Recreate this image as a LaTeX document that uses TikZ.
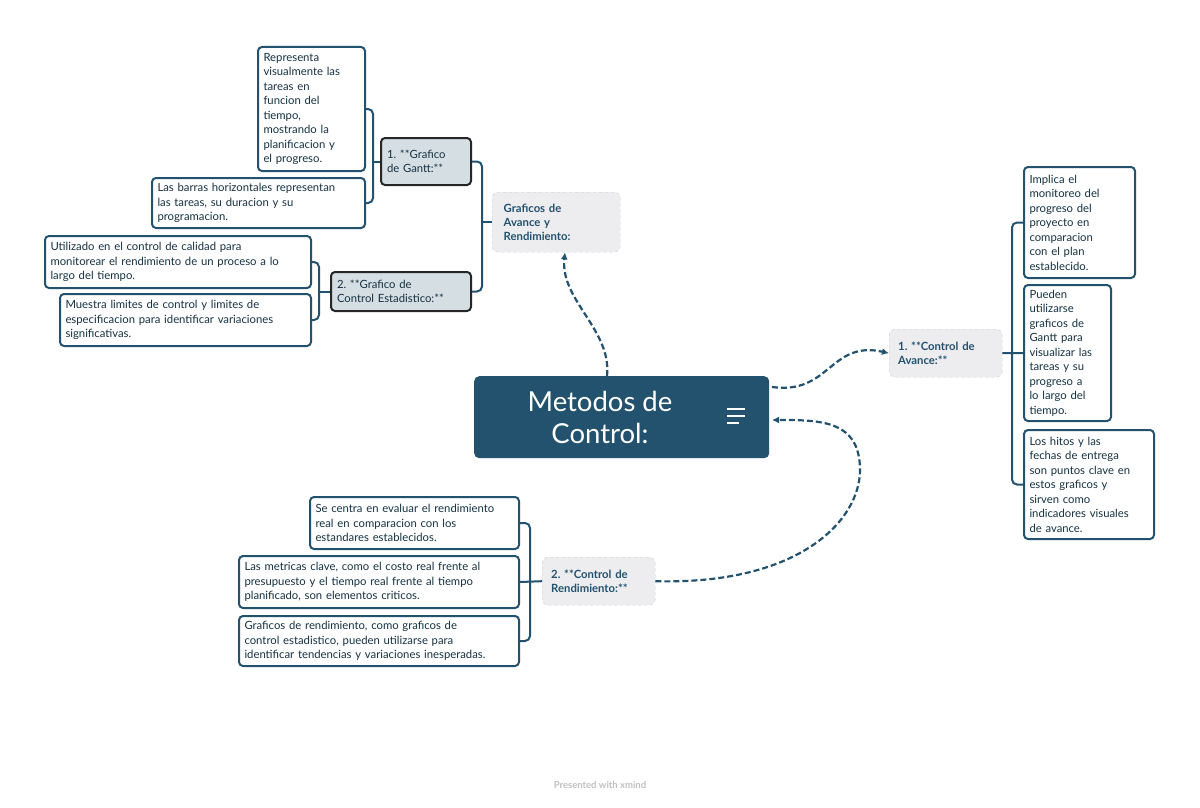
\documentclass[tikz,border=0pt]{standalone}
\usepackage{fontspec}
\setmainfont{Lato}
\frenchspacing
\usetikzlibrary{arrows.meta,calc}
\definecolor{dk}{HTML}{23526E}
\definecolor{lg}{HTML}{EDECEF}
\definecolor{gb}{HTML}{D5DEE3}
\tikzset{
 leaf/.style={draw=dk,line width=2pt,rounded corners=4pt,fill=white,anchor=north west,inner xsep=5pt,inner ysep=2pt,align=left,font=\fontsize{11.3}{14.5}\selectfont,text=dk!60!black},
 sub/.style={leaf,draw=black!85,fill=gb,font=\fontsize{11.3}{14}\selectfont},
 topic/.style={fill=lg,draw=lg!85!black,dashed,line width=0.4pt,rounded corners=6pt,anchor=north west,inner xsep=9pt,align=left,font=\bfseries\fontsize{11.3}{14}\selectfont,text=dk},
 br/.style={draw=dk,line width=2pt,rounded corners=5pt},
 dsh/.style={draw=dk,line width=2.2pt,dash pattern=on 6pt off 3pt,-{Latex[length=7pt,width=7pt]}}
}
\begin{document}
\begin{tikzpicture}[x=1pt,y=-1pt]
\useasboundingbox (0,0) rectangle (1200,808);
% central
\node[fill=dk,rounded corners=5pt,minimum width=295,minimum height=82,anchor=north west] (c) at (474,376) {};
\node[text=white,align=center,font=\fontsize{27.5}{32}\selectfont] (ct) at (600,417) {Metodos de\\Control:};
\draw[white,line width=1.6pt] (727,409)--(745,409) (727,416)--(745,416) (727,423)--(739,423);
% topics
\node[topic,minimum width=128,minimum height=60,text width=105] (ga) at (492,192) {Graficos de\\Avance y\\Rendimiento:};
\node[topic,minimum width=113,minimum height=48,text width=95] (ca) at (889,329) {1. **Control de\\Avance:**};
\node[topic,minimum width=112,minimum height=48,text width=95] (cr) at (542,557) {2. **Control de\\Rendimiento:**};
% subs
\node[sub,minimum width=90,minimum height=47,text width=78] (gt) at (380,137) {1. **Grafico\\de Gantt:**};
\node[sub,minimum width=140,minimum height=39,text width=128] (ge) at (330,271) {2. **Grafico de\\Control Estadistico:**};
% leaves
\node[leaf,minimum width=107,minimum height=124,text width=96] (l1) at (257,46) {Representa\\visualmente las\\tareas en\\funcion del\\tiempo,\\mostrando la\\planificacion y\\el progreso.};
\node[leaf,minimum width=213,minimum height=50,text width=202] (l2) at (151,177) {Las barras horizontales representan\\las tareas, su duracion y su\\programacion.};
\node[leaf,minimum width=266,minimum height=52,text width=255] (l3) at (44,235) {Utilizado en el control de calidad para\\monitorear el rendimiento de un proceso a lo\\largo del tiempo.};
\node[leaf,minimum width=251,minimum height=52,text width=240] (l4) at (59,293) {Muestra limites de control y limites de\\especificacion para identificar variaciones\\significativas.};
\node[leaf,minimum width=111,minimum height=111,text width=100] (r1) at (1023,166) {Implica el\\monitoreo del\\progreso del\\proyecto en\\comparacion\\con el plan\\establecido.};
\node[leaf,minimum width=87,minimum height=136,text width=76] (r2) at (1023,284) {Pueden\\utilizarse\\graficos de\\Gantt para\\visualizar las\\tareas y su\\progreso a\\lo largo del\\tiempo.};
\node[leaf,minimum width=130,minimum height=109,text width=119] (r3) at (1023,429) {Los hitos y las\\fechas de entrega\\son puntos clave en\\estos graficos y\\sirven como\\indicadores visuales\\de avance.};
\node[leaf,minimum width=209,minimum height=52,text width=198] (b1) at (309,496) {Se centra en evaluar el rendimiento\\real en comparacion con los\\estandares establecidos.};
\node[leaf,minimum width=280,minimum height=52,text width=269] (b2) at (238,555) {Las metricas clave, como el costo real frente al\\presupuesto y el tiempo real frente al tiempo\\planificado, son elementos criticos.};
\node[leaf,minimum width=280,minimum height=50,text width=269] (b3) at (238,615) {Graficos de rendimiento, como graficos de\\control estadistico, pueden utilizarse para\\identificar tendencias y variaciones inesperadas.};
% brackets
\coordinate (j1) at (373,160);
\draw[br] (l1.east) -| (j1) |- (l2.east);
\draw[br] (gt.west -| j1) -- (gt.west);
\coordinate (j2) at (482,222);
\draw[br] (gt.east) -| (j2) |- (ge.east);
\draw[br] (ga.west -| j2) -- (ga.west);
\coordinate (j3) at (319,290);
\draw[br] (l3.east) -| (j3) |- (l4.east);
\draw[br] (ge.west -| j3) -- (ge.west);
\coordinate (j4) at (1012,353);
\draw[br] (r1.west) -| (j4) |- (r3.west);
\draw[br] (ca.east) -- (r2.west);
\coordinate (j5) at (530,581);
\draw[br] (b1.east) -| (j5) |- (b3.east);
\draw[br] (b2.east) -- (cr.west);
% dashed connectors
\coordinate (ctop) at (607,376);
\draw[dsh] (ctop) .. controls (612,330) and (560,300) .. (ga.south -| 565,0);
\coordinate (cr1) at (772,387);
\draw[dsh] (cr1) .. controls (830,395) and (830,340) .. (ca.west);
\coordinate (cr2) at (772,420);
\draw[dsh] (cr.east) .. controls (800,585) and (860,520) .. (860,470) .. controls (860,420) and (820,420) .. (cr2);
\node[text=black!25,font=\bfseries\fontsize{9.5}{11}\selectfont] (ft) at (600,785) {Presented with xmind};
\end{tikzpicture}
\end{document}
